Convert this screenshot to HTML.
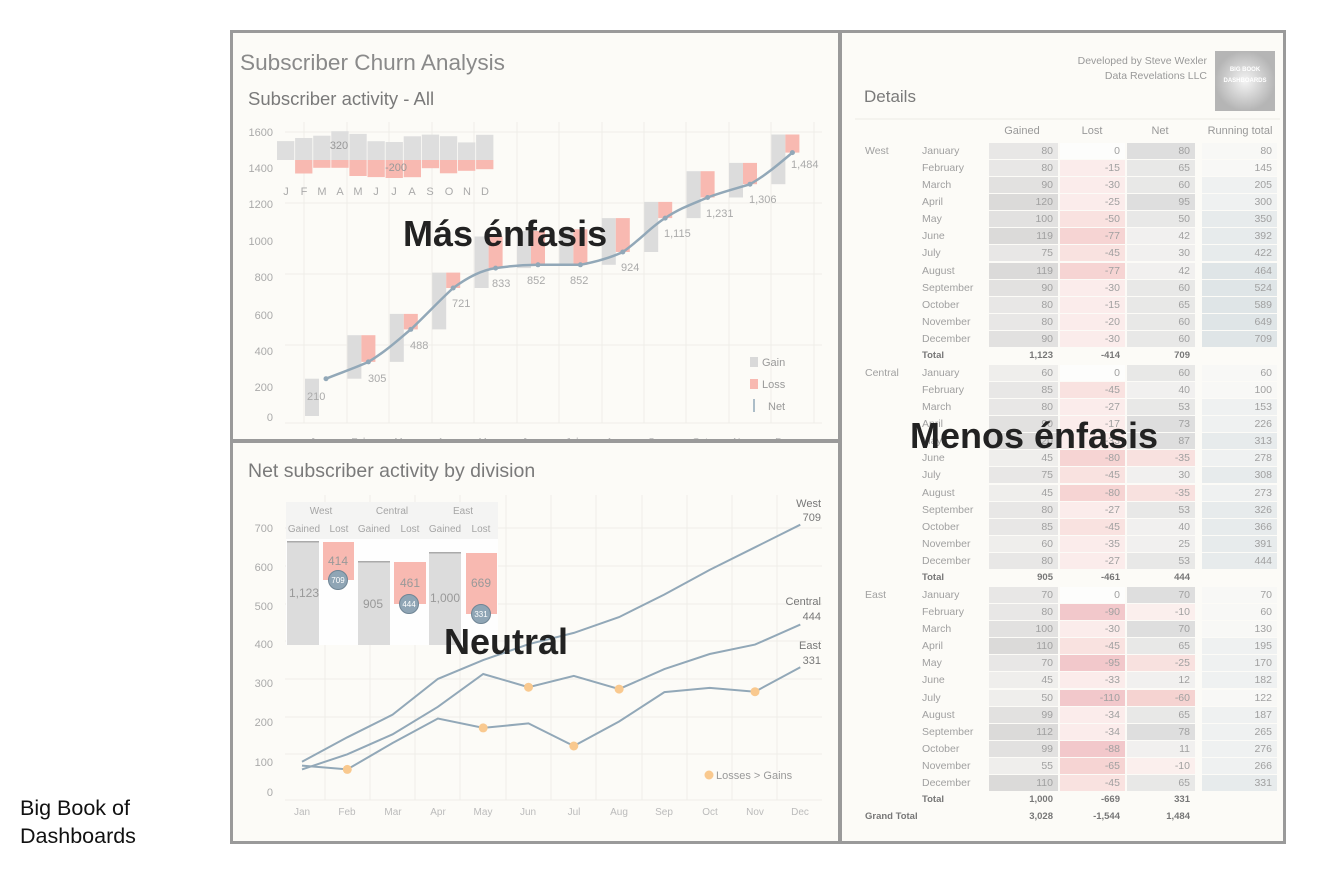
<!DOCTYPE html>
<html><head><meta charset="utf-8">
<style>
*{margin:0;padding:0;box-sizing:border-box}
body{width:1322px;height:874px;background:#fff;position:relative;overflow:hidden;font-family:"Liberation Sans",sans-serif}
svg{position:absolute;left:0;top:0}
#tbl{position:absolute;left:855px;top:143px;width:425px;font-size:10.5px;color:#a0a0a0}
.r{position:relative;height:17.08px}
.r span{position:absolute;top:0;height:16px;line-height:16px}
.a{left:10px}.m{left:67px}
.g,.l,.n,.t{text-align:right;padding-right:5px}
.g{left:134px;width:69px}.l{left:205px;width:65px}.n{left:272px;width:68px}.t{left:347px;width:75px}
.tot span{color:#777;font-weight:bold;font-size:9.5px}
.g1{background:#efeeec}.g2{background:#e8e7e6}.g3{background:#e2e1e0}.g4{background:#dbdad9}
.l0{background:#fdfdfc}.l1{background:#fbeceb}.l2{background:#f9e2e0}.l3{background:#f6d4d3}.l4{background:#f2c8cb}
.n1{background:#f1f0ef}.n2{background:#e8e8e7}.n3{background:#dedede}.p1{background:#fbefed}.p2{background:#f8e1df}.p3{background:#f5d3d1}
.t1{background:#f8f8f6}.t2{background:#eff1f1}.t3{background:#e7ebec}.t4{background:#dfe5e7}
.big{position:absolute;font-weight:bold;font-size:36px;color:#222;white-space:nowrap}
</style></head><body>
<svg width="1322" height="874" viewBox="0 0 1322 874" font-family="Liberation Sans, sans-serif" xml:space="preserve">
<rect x="230" y="30" width="1056" height="814" fill="#fcfbf7"/>
<!-- TOP PANEL -->
<text x="240" y="70" font-size="22.6" fill="#8a8a8a">Subscriber Churn Analysis</text>
<text x="248" y="105" font-size="18.5" fill="#7a7a7a">Subscriber activity  - All</text>
<g stroke="#efeee9" stroke-width="1">
<line x1="285" y1="132" x2="822" y2="132"/><line x1="285" y1="203" x2="822" y2="203"/><line x1="285" y1="274" x2="822" y2="274"/><line x1="285" y1="345" x2="822" y2="345"/><line x1="285" y1="423" x2="822" y2="423"/>
<line x1="304" y1="122" x2="304" y2="423"/><line x1="347" y1="122" x2="347" y2="423"/><line x1="389" y1="122" x2="389" y2="423"/><line x1="432" y1="122" x2="432" y2="423"/><line x1="474" y1="122" x2="474" y2="423"/><line x1="517" y1="122" x2="517" y2="423"/><line x1="559" y1="122" x2="559" y2="423"/><line x1="602" y1="122" x2="602" y2="423"/><line x1="644" y1="122" x2="644" y2="423"/><line x1="686" y1="122" x2="686" y2="423"/><line x1="729" y1="122" x2="729" y2="423"/><line x1="771" y1="122" x2="771" y2="423"/><line x1="814" y1="122" x2="814" y2="423"/>
</g>
<g font-size="11" fill="#aaa" text-anchor="end">
<text x="273" y="136">1600</text><text x="273" y="172">1400</text><text x="273" y="208">1200</text><text x="273" y="245">1000</text><text x="273" y="281">800</text><text x="273" y="319">600</text><text x="273" y="355">400</text><text x="273" y="391">200</text><text x="273" y="421">0</text>
</g>
<!-- inset -->
<g fill="#dedede">
<rect x="277" y="141.1" width="17.3" height="18.9"/><rect x="295.1" y="138" width="17.3" height="22"/><rect x="313.2" y="135.7" width="17.3" height="24.3"/><rect x="331.3" y="131.2" width="17.3" height="28.8"/><rect x="349.4" y="133.9" width="17.3" height="26.1"/><rect x="367.5" y="141.2" width="17.3" height="18.8"/><rect x="385.6" y="142" width="17.3" height="18"/><rect x="403.7" y="136.3" width="17.3" height="23.7"/><rect x="421.8" y="134.6" width="17.3" height="25.4"/><rect x="439.9" y="136.2" width="17.3" height="23.8"/><rect x="458" y="142.4" width="17.3" height="17.6"/><rect x="476.1" y="134.8" width="17.3" height="25.2"/>
</g>
<g fill="#f8b9b1">
<rect x="295.1" y="160" width="17.3" height="13.5"/><rect x="313.2" y="160" width="17.3" height="7.8"/><rect x="331.3" y="160" width="17.3" height="7.8"/><rect x="349.4" y="160" width="17.3" height="16"/><rect x="367.5" y="160" width="17.3" height="17.1"/><rect x="385.6" y="160" width="17.3" height="18"/><rect x="403.7" y="160" width="17.3" height="17.2"/><rect x="421.8" y="160" width="17.3" height="8.2"/><rect x="439.9" y="160" width="17.3" height="13.3"/><rect x="458" y="160" width="17.3" height="10.8"/><rect x="476.1" y="160" width="17.3" height="9.2"/>
</g>
<text x="339" y="149" font-size="11" fill="#999" text-anchor="middle">320</text>
<text x="396" y="171" font-size="11" fill="#999" text-anchor="middle">-200</text>
<g font-size="11" fill="#aaa" text-anchor="middle">
<text x="286" y="195">J</text><text x="304" y="195">F</text><text x="322" y="195">M</text><text x="340" y="195">A</text><text x="358" y="195">M</text><text x="376" y="195">J</text><text x="394" y="195">J</text><text x="412" y="195">A</text><text x="430" y="195">S</text><text x="449" y="195">O</text><text x="467" y="195">N</text><text x="485" y="195">D</text>
</g>
<!-- waterfall -->
<g fill="#dcdcdc">
<rect x="305" y="378.7" width="14" height="37.3"/><rect x="347.4" y="335.2" width="14" height="43.5"/><rect x="389.8" y="313.9" width="14" height="48"/><rect x="432.2" y="272.6" width="14" height="56.8"/><rect x="474.6" y="236.5" width="14" height="51.5"/><rect x="517" y="231" width="14" height="37.1"/><rect x="559.4" y="229.3" width="14" height="35.5"/><rect x="601.8" y="218.1" width="14" height="46.7"/><rect x="644.2" y="201.9" width="14" height="50.1"/><rect x="686.6" y="171.2" width="14" height="46.9"/><rect x="729" y="162.9" width="14" height="34.6"/><rect x="771.4" y="134.5" width="14" height="49.7"/>
</g>
<g fill="#f8b9b1">
<rect x="361.4" y="335.2" width="14" height="26.7"/><rect x="403.8" y="313.9" width="14" height="15.5"/><rect x="446.2" y="272.6" width="14" height="15.4"/><rect x="488.6" y="236.5" width="14" height="31.6"/><rect x="531" y="231" width="14" height="33.8"/><rect x="573.4" y="229.3" width="14" height="35.5"/><rect x="615.8" y="218.1" width="14" height="33.9"/><rect x="658.2" y="201.9" width="14" height="16.2"/><rect x="700.6" y="171.2" width="14" height="26.3"/><rect x="743" y="162.9" width="14" height="21.3"/><rect x="785.4" y="134.5" width="14" height="18.1"/>
</g>
<path d="M326,378.7 C340,373 355,368 368.4,361.9 C385,352 398,340 410.8,329.4 C425,316 440,300 453.2,288 C468,277 482,270 495.6,268.1 C510,266 525,265 538,264.8 L580.4,264.8 C595,262 610,258 622.8,252 C640,240 652,226 665.2,218.1 C680,208 695,203 707.6,197.5 C722,192 738,188 750,184.2 C765,176 780,163 792.4,152.6" fill="none" stroke="#92a8b8" stroke-width="2.5"/>
<g fill="#92a8b8">
<circle cx="326" cy="378.7" r="2.5"/><circle cx="368.4" cy="361.9" r="2.5"/><circle cx="410.8" cy="329.4" r="2.5"/><circle cx="453.2" cy="288" r="2.5"/><circle cx="495.6" cy="268.1" r="2.5"/><circle cx="538" cy="264.8" r="2.5"/><circle cx="580.4" cy="264.8" r="2.5"/><circle cx="622.8" cy="252" r="2.5"/><circle cx="665.2" cy="218.1" r="2.5"/><circle cx="707.6" cy="197.5" r="2.5"/><circle cx="750" cy="184.2" r="2.5"/><circle cx="792.4" cy="152.6" r="2.5"/>
</g>
<g font-size="11" fill="#aaa">
<text x="307" y="400">210</text><text x="368" y="382">305</text><text x="410" y="349">488</text><text x="452" y="307">721</text><text x="492" y="287">833</text><text x="527" y="284">852</text><text x="570" y="284">852</text><text x="621" y="271">924</text><text x="664" y="237">1,115</text><text x="706" y="217">1,231</text><text x="749" y="203">1,306</text><text x="791" y="168">1,484</text>
</g>
<rect x="750" y="357" width="8" height="10" fill="#d9d9d9"/><text x="762" y="366" font-size="11" fill="#999">Gain</text>
<rect x="750" y="379" width="8" height="10" fill="#f8b9b1"/><text x="762" y="388" font-size="11" fill="#999">Loss</text>
<line x1="754" y1="399" x2="754" y2="412" stroke="#92a8b8" stroke-width="1.5"/><text x="768" y="410" font-size="11" fill="#999">Net</text>
<g font-size="10" fill="#bbb" text-anchor="middle">
<text x="318" y="445">Jan</text><text x="360" y="445">Feb</text><text x="403" y="445">Mar</text><text x="445" y="445">Apr</text><text x="488" y="445">May</text><text x="530" y="445">Jun</text><text x="572" y="445">Jul</text><text x="615" y="445">Aug</text><text x="657" y="445">Sep</text><text x="700" y="445">Oct</text><text x="742" y="445">Nov</text><text x="784" y="445">Dec</text>
</g>
<!-- BOTTOM PANEL -->
<rect x="232" y="442" width="607" height="400" fill="#fcfbf7"/>
<text x="248" y="477" font-size="19.5" fill="#7a7a7a">Net subscriber activity by division</text>
<g stroke="#efeee9" stroke-width="1">
<line x1="285" y1="528" x2="822" y2="528"/><line x1="285" y1="566" x2="822" y2="566"/><line x1="285" y1="604" x2="822" y2="604"/><line x1="285" y1="641" x2="822" y2="641"/><line x1="285" y1="679" x2="822" y2="679"/><line x1="285" y1="717" x2="822" y2="717"/><line x1="285" y1="754" x2="822" y2="754"/><line x1="285" y1="800" x2="822" y2="800"/>
<line x1="325" y1="495" x2="325" y2="800"/><line x1="370" y1="495" x2="370" y2="800"/><line x1="415" y1="495" x2="415" y2="800"/><line x1="460" y1="495" x2="460" y2="800"/><line x1="506" y1="495" x2="506" y2="800"/><line x1="551" y1="495" x2="551" y2="800"/><line x1="596" y1="495" x2="596" y2="800"/><line x1="642" y1="495" x2="642" y2="800"/><line x1="687" y1="495" x2="687" y2="800"/><line x1="732" y1="495" x2="732" y2="800"/><line x1="777" y1="495" x2="777" y2="800"/>
</g>
<g font-size="11" fill="#aaa" text-anchor="end">
<text x="273" y="532">700</text><text x="273" y="571">600</text><text x="273" y="610">500</text><text x="273" y="648">400</text><text x="273" y="687">300</text><text x="273" y="726">200</text><text x="273" y="766">100</text><text x="273" y="796">0</text>
</g>
<g font-size="10" fill="#bbb" text-anchor="middle">
<text x="302" y="815">Jan</text><text x="347" y="815">Feb</text><text x="393" y="815">Mar</text><text x="438" y="815">Apr</text><text x="483" y="815">May</text><text x="528" y="815">Jun</text><text x="574" y="815">Jul</text><text x="619" y="815">Aug</text><text x="664" y="815">Sep</text><text x="710" y="815">Oct</text><text x="755" y="815">Nov</text><text x="800" y="815">Dec</text>
</g>
<!-- inset bars -->
<rect x="286" y="502" width="212" height="143" fill="#fefefe"/>
<rect x="286" y="502" width="212" height="37" fill="#f4f4f3"/>
<g font-size="10" fill="#a5a5a5" text-anchor="middle">
<text x="321" y="514">West</text><text x="392" y="514">Central</text><text x="463" y="514">East</text>
<text x="304" y="532">Gained</text><text x="339" y="532">Lost</text><text x="374" y="532">Gained</text><text x="410" y="532">Lost</text><text x="445" y="532">Gained</text><text x="481" y="532">Lost</text>
</g>
<rect x="287" y="541" width="32" height="104" fill="#dcdcdc"/><rect x="287" y="541" width="32" height="1.5" fill="#aaa"/>
<rect x="323" y="542" width="31" height="38" fill="#f8b9b1"/>
<rect x="358" y="561" width="32" height="84" fill="#dcdcdc"/><rect x="358" y="561" width="32" height="1.5" fill="#aaa"/>
<rect x="394" y="562" width="32" height="42" fill="#f8b9b1"/>
<rect x="429" y="552" width="32" height="93" fill="#dcdcdc"/><rect x="429" y="552" width="32" height="1.5" fill="#aaa"/>
<rect x="466" y="553" width="31" height="61" fill="#f8b9b1"/>
<g font-size="12" fill="#999" text-anchor="middle">
<text x="304" y="597">1,123</text><text x="338" y="565">414</text><text x="373" y="608">905</text><text x="410" y="587">461</text><text x="445" y="602">1,000</text><text x="481" y="587">669</text>
</g>
<g stroke="#6f8595" stroke-width="1" fill="#8fa5b5">
<circle cx="338" cy="580" r="9.5"/><circle cx="409" cy="604" r="9.5"/><circle cx="481" cy="614" r="9.5"/>
</g>
<g font-size="8" fill="#fff" text-anchor="middle">
<text x="338" y="583">709</text><text x="409" y="607">444</text><text x="481" y="617">331</text>
</g>
<!-- lines -->
<g fill="none" stroke="#92a8b8" stroke-width="2">
<polyline points="302,761.8 347.3,737.3 392.6,714.7 437.9,678.9 483.2,660.1 528.5,644.2 573.8,632.9 619.1,617.1 664.4,594.5 709.7,569.9 755,547.3 800.3,524.7"/>
<polyline points="302,769.4 347.3,754.3 392.6,734.3 437.9,706.8 483.2,674 528.5,687.2 573.8,675.9 619.1,689.1 664.4,669.1 709.7,654 755,644.6 800.3,624.6"/>
<polyline points="302,765.6 347.3,769.4 392.6,743 437.9,718.5 483.2,727.9 528.5,723.4 573.8,746 619.1,721.5 664.4,692.1 709.7,687.9 755,691.7 800.3,667.2"/>
</g>
<g fill="#f9c98f">
<circle cx="528.5" cy="687.2" r="4.5"/><circle cx="619.1" cy="689.1" r="4.5"/><circle cx="347.3" cy="769.4" r="4.5"/><circle cx="483.2" cy="727.9" r="4.5"/><circle cx="573.8" cy="746" r="4.5"/><circle cx="755" cy="691.7" r="4.5"/>
<circle cx="709" cy="775" r="4.5"/>
</g>
<text x="716" y="779" font-size="11" fill="#999">Losses &gt; Gains</text>
<g font-size="11" fill="#777" text-anchor="end">
<text x="821" y="507">West</text><text x="821" y="521">709</text>
<text x="821" y="605">Central</text><text x="821" y="620">444</text>
<text x="821" y="649">East</text><text x="821" y="664">331</text>
</g>
<!-- RIGHT PANEL header -->
<text x="1207" y="64" font-size="10.5" fill="#999" text-anchor="end">Developed by Steve Wexler</text>
<text x="1207" y="79" font-size="10.5" fill="#999" text-anchor="end">Data Revelations LLC</text>
<defs><radialGradient id="bk"><stop offset="0" stop-color="#f4f4f4"/><stop offset="1" stop-color="#b5b5b5"/></radialGradient></defs>
<rect x="1215" y="51" width="60" height="60" fill="url(#bk)"/>
<text x="1245" y="71" font-size="6" fill="#fff" text-anchor="middle" font-weight="bold">BIG BOOK</text>
<text x="1245" y="82" font-size="6" fill="#fff" text-anchor="middle" font-weight="bold">DASHBOARDS</text>
<text x="864" y="102" font-size="17" fill="#7a7a7a">Details</text>
<line x1="855" y1="119" x2="1280" y2="119" stroke="#ecebe6"/>
<g font-size="11" fill="#999" text-anchor="middle">
<text x="1022" y="134">Gained</text><text x="1092" y="134">Lost</text><text x="1160" y="134">Net</text><text x="1240" y="134">Running total</text>
</g>
<!-- borders -->
<g fill="none" stroke="#9a9a9a" stroke-width="3">
<rect x="231.5" y="31.5" width="608" height="409"/>
<rect x="231.5" y="441.5" width="608" height="401"/>
<rect x="840.5" y="31.5" width="444" height="811"/>
</g>
<text x="20" y="815" font-size="21.5" fill="#111">Big Book of</text>
<text x="20" y="843" font-size="21.5" fill="#111">Dashboards</text>
</svg>

<div id="tbl">
<div class="r"><span class="a">West</span><span class="m">January</span><span class="g g2">80</span><span class="l l0">0</span><span class="n n3">80</span><span class="t t1">80</span></div>
<div class="r"><span class="m">February</span><span class="g g2">80</span><span class="l l1">-15</span><span class="n n2">65</span><span class="t t1">145</span></div>
<div class="r"><span class="m">March</span><span class="g g3">90</span><span class="l l1">-30</span><span class="n n2">60</span><span class="t t2">205</span></div>
<div class="r"><span class="m">April</span><span class="g g4">120</span><span class="l l1">-25</span><span class="n n3">95</span><span class="t t2">300</span></div>
<div class="r"><span class="m">May</span><span class="g g3">100</span><span class="l l2">-50</span><span class="n n2">50</span><span class="t t3">350</span></div>
<div class="r"><span class="m">June</span><span class="g g4">119</span><span class="l l3">-77</span><span class="n n1">42</span><span class="t t3">392</span></div>
<div class="r"><span class="m">July</span><span class="g g2">75</span><span class="l l2">-45</span><span class="n n1">30</span><span class="t t3">422</span></div>
<div class="r"><span class="m">August</span><span class="g g4">119</span><span class="l l3">-77</span><span class="n n1">42</span><span class="t t4">464</span></div>
<div class="r"><span class="m">September</span><span class="g g3">90</span><span class="l l1">-30</span><span class="n n2">60</span><span class="t t4">524</span></div>
<div class="r"><span class="m">October</span><span class="g g2">80</span><span class="l l1">-15</span><span class="n n2">65</span><span class="t t4">589</span></div>
<div class="r"><span class="m">November</span><span class="g g2">80</span><span class="l l1">-20</span><span class="n n2">60</span><span class="t t4">649</span></div>
<div class="r"><span class="m">December</span><span class="g g3">90</span><span class="l l1">-30</span><span class="n n2">60</span><span class="t t4">709</span></div>
<div class="r tot"><span class="m">Total</span><span class="g">1,123</span><span class="l">-414</span><span class="n">709</span></div>
<div class="r"><span class="a">Central</span><span class="m">January</span><span class="g g1">60</span><span class="l l0">0</span><span class="n n2">60</span><span class="t t1">60</span></div>
<div class="r"><span class="m">February</span><span class="g g2">85</span><span class="l l2">-45</span><span class="n n1">40</span><span class="t t1">100</span></div>
<div class="r"><span class="m">March</span><span class="g g2">80</span><span class="l l1">-27</span><span class="n n2">53</span><span class="t t2">153</span></div>
<div class="r"><span class="m">April</span><span class="g g3">90</span><span class="l l1">-17</span><span class="n n3">73</span><span class="t t2">226</span></div>
<div class="r"><span class="m">May</span><span class="g g4">120</span><span class="l l1">-33</span><span class="n n3">87</span><span class="t t3">313</span></div>
<div class="r"><span class="m">June</span><span class="g g1">45</span><span class="l l3">-80</span><span class="n p2">-35</span><span class="t t2">278</span></div>
<div class="r"><span class="m">July</span><span class="g g2">75</span><span class="l l2">-45</span><span class="n n1">30</span><span class="t t3">308</span></div>
<div class="r"><span class="m">August</span><span class="g g1">45</span><span class="l l3">-80</span><span class="n p2">-35</span><span class="t t2">273</span></div>
<div class="r"><span class="m">September</span><span class="g g2">80</span><span class="l l1">-27</span><span class="n n2">53</span><span class="t t3">326</span></div>
<div class="r"><span class="m">October</span><span class="g g2">85</span><span class="l l2">-45</span><span class="n n1">40</span><span class="t t3">366</span></div>
<div class="r"><span class="m">November</span><span class="g g1">60</span><span class="l l1">-35</span><span class="n n1">25</span><span class="t t3">391</span></div>
<div class="r"><span class="m">December</span><span class="g g2">80</span><span class="l l1">-27</span><span class="n n2">53</span><span class="t t3">444</span></div>
<div class="r tot"><span class="m">Total</span><span class="g">905</span><span class="l">-461</span><span class="n">444</span></div>
<div class="r"><span class="a">East</span><span class="m">January</span><span class="g g2">70</span><span class="l l0">0</span><span class="n n3">70</span><span class="t t1">70</span></div>
<div class="r"><span class="m">February</span><span class="g g2">80</span><span class="l l4">-90</span><span class="n p1">-10</span><span class="t t1">60</span></div>
<div class="r"><span class="m">March</span><span class="g g3">100</span><span class="l l1">-30</span><span class="n n3">70</span><span class="t t1">130</span></div>
<div class="r"><span class="m">April</span><span class="g g4">110</span><span class="l l2">-45</span><span class="n n2">65</span><span class="t t2">195</span></div>
<div class="r"><span class="m">May</span><span class="g g2">70</span><span class="l l4">-95</span><span class="n p2">-25</span><span class="t t2">170</span></div>
<div class="r"><span class="m">June</span><span class="g g1">45</span><span class="l l1">-33</span><span class="n n1">12</span><span class="t t2">182</span></div>
<div class="r"><span class="m">July</span><span class="g g1">50</span><span class="l l4">-110</span><span class="n p3">-60</span><span class="t t1">122</span></div>
<div class="r"><span class="m">August</span><span class="g g3">99</span><span class="l l1">-34</span><span class="n n2">65</span><span class="t t2">187</span></div>
<div class="r"><span class="m">September</span><span class="g g4">112</span><span class="l l1">-34</span><span class="n n3">78</span><span class="t t2">265</span></div>
<div class="r"><span class="m">October</span><span class="g g3">99</span><span class="l l4">-88</span><span class="n n1">11</span><span class="t t2">276</span></div>
<div class="r"><span class="m">November</span><span class="g g1">55</span><span class="l l3">-65</span><span class="n p1">-10</span><span class="t t2">266</span></div>
<div class="r"><span class="m">December</span><span class="g g4">110</span><span class="l l2">-45</span><span class="n n2">65</span><span class="t t3">331</span></div>
<div class="r tot"><span class="m">Total</span><span class="g">1,000</span><span class="l">-669</span><span class="n">331</span></div>
<div class="r tot"><span class="a">Grand Total</span><span class="g">3,028</span><span class="l">-1,544</span><span class="n">1,484</span></div>
</div>

<div class="big" style="left:403px;top:213px">Más énfasis</div>
<div class="big" style="left:444px;top:621px">Neutral</div>
<div class="big" style="left:910px;top:415px">Menos énfasis</div>
</body></html>
